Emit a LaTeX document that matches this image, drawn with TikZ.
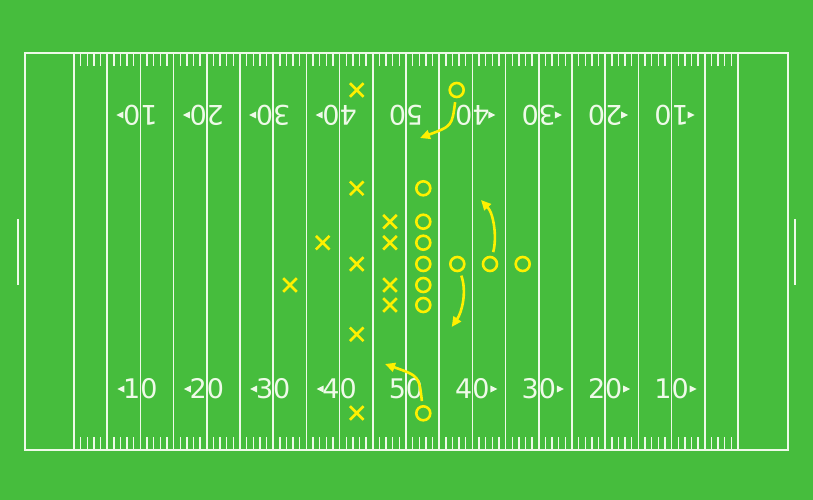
\documentclass[tikz,border=0pt]{standalone}
\usepackage{fontspec}
\setmainfont{DejaVu Sans}
\usetikzlibrary{shapes.misc,arrows.meta,positioning}
\definecolor{turf}{RGB}{70,189,61}
\definecolor{chalk}{RGB}{238,250,232}
\definecolor{team}{RGB}{255,240,0}
\tikzset{
	line/.style={draw=chalk,line width=1.6pt},
	tick/.style={draw=chalk,line width=1.4pt},
	xman/.style={cross out,draw=team,line width=2.6pt,minimum size=11pt,inner sep=0pt},
	oman/.style={circle,draw=team,line width=2.6pt,minimum size=14pt,inner sep=0pt},
	run/.style={draw=team,line width=2.6pt,shorten <=4pt,-{Triangle[length=10pt,width=9pt]}},
	yard/.style={text=chalk,font=\fontsize{27}{27}\selectfont,inner sep=0pt}
}
\begin{document}
\begin{tikzpicture}[x=1pt,y=-1pt]
		\fill [turf] (0,0) rectangle (813,500);
		\useasboundingbox (0,0) rectangle (813,500);
		\draw [line] (25,53) rectangle (788,450);
		\foreach \i in {0,...,20}
			\draw [line] ({74+33.2*\i},53) -- ({74+33.2*\i},450);
		\foreach \s in {0,...,19}
			\foreach \k in {1,...,4} {
				\draw [tick] ({74+33.2*\s+6.64*\k},53) -- ++(0,13);
				\draw [tick] ({74+33.2*\s+6.64*\k},450) -- ++(0,-13);
			}
		\draw [line] (18,219) -- (18,285);
		\draw [line] (795,219) -- (795,285);
		\foreach \n/\i in {10/1,20/2,30/3,40/4,50/5,40/6,30/7,20/8,10/9} {
			\node [yard] (bot\i) at ({74+66.4*\i},389) {\n};
			\node [yard,rotate=180] (top\i) at ({74+66.4*\i},115) {\n};
		}
		\foreach \i in {1,...,4} {
			\fill [chalk] ({74+66.4*\i-23},389) -- ++(7,-3.5) -- ++(0,7) -- cycle;
			\fill [chalk] ({74+66.4*\i-24},115) -- ++(7,-3.5) -- ++(0,7) -- cycle;
		}
		\foreach \i in {6,...,9} {
			\fill [chalk] ({74+66.4*\i+25},389) -- ++(-7,-3.5) -- ++(0,7) -- cycle;
			\fill [chalk] ({74+66.4*\i+23},115) -- ++(-7,-3.5) -- ++(0,7) -- cycle;
		}
		\node [xman] (x1) at (356.7,90) {};
		\node [xman] (x2) at (356.7,188.3) {};
		\node [xman] (x3) at (390,221.7) {};
		\node [xman] (x4) at (322.7,242.7) {};
		\node [xman] (x5) at (390,242.7) {};
		\node [xman] (x6) at (356.7,264) {};
		\node [xman] (x7) at (290,285) {};
		\node [xman] (x8) at (390,285) {};
		\node [xman] (x9) at (390,305) {};
		\node [xman] (x10) at (356.7,334.3) {};
		\node [xman] (x11) at (356.7,413) {};
		\node [oman] (o1) at (456.7,90) {};
		\node [oman] (o2) at (423.3,188.3) {};
		\node [oman] (o3) at (423.3,221.7) {};
		\node [oman] (o4) at (423.3,242.7) {};
		\node [oman] (o5) at (423.3,264) {};
		\node [oman] (o6) at (457.3,264) {};
		\node [oman] (o7) at (490,264) {};
		\node [oman] (o8) at (522.7,264) {};
		\node [oman] (o9) at (423.3,285) {};
		\node [oman] (o10) at (423.3,305) {};
		\node [oman] (o11) at (423.3,413.3) {};
		\coordinate (e1) at (420,138);
		\coordinate (e7) at (481,200);
		\coordinate (e6) at (451.7,327);
		\coordinate (e11) at (385,364);
		\draw [run] (o1) .. controls (452,126) .. (e1);
		\draw [run] (o7) .. controls (497,238) and (494,214) .. (e7);
		\draw [run] (o6) .. controls (467,292) and (462,312) .. (e6);
		\draw [run] (o11) .. controls (419,376) .. (e11);
		\end{tikzpicture}
\end{document}
